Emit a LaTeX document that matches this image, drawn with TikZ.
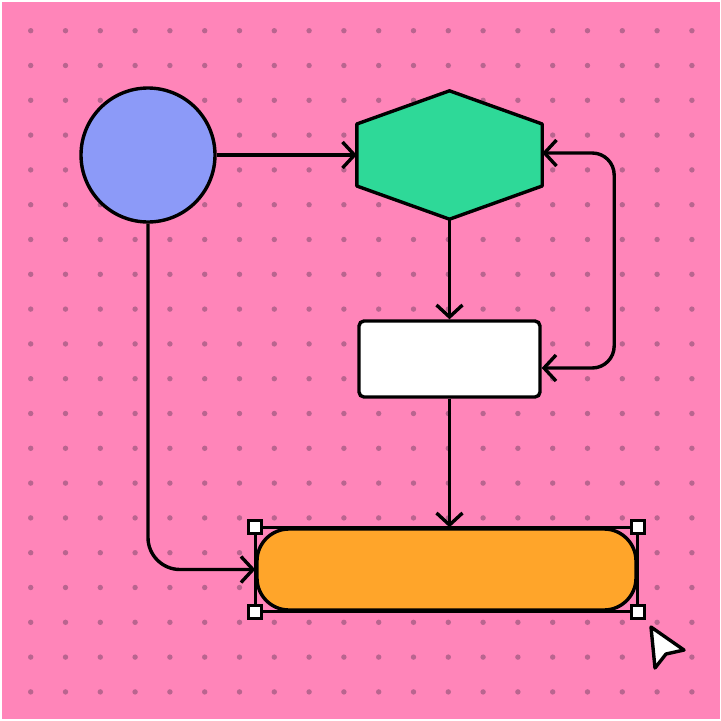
\documentclass[tikz,border=0pt]{standalone}
\usetikzlibrary{arrows.meta}
\definecolor{bgpink}{HTML}{FF85B9}
\definecolor{dotpink}{HTML}{B9658F}
\definecolor{circblue}{HTML}{8C9AF8}
\definecolor{hexgreen}{HTML}{2ED998}
\definecolor{pillorange}{HTML}{FFA52A}
\begin{document}
\begin{tikzpicture}[x=1pt, y=-1pt, line width=3.4pt,
	arr/.style={-{Straight Barb[length=12pt,width=26pt,line width=3.4pt]}},
	arrboth/.style={{Straight Barb[length=12pt,width=26pt,line width=3.4pt]}-{Straight Barb[length=12pt,width=26pt,line width=3.4pt]}},
	handle/.style={draw, fill=white, line width=3pt, minimum size=13pt, inner sep=0pt}]
	\useasboundingbox (0,0) rectangle (721,721);
	\fill[bgpink] (2,2) rectangle (720,719);
	\foreach \i in {0,...,19}
		\foreach \j in {0,...,19}
			\fill[dotpink] (30.7+34.8*\i, 30.7+34.8*\j) circle (2.7);
	\node[draw, circle, fill=circblue, minimum size=134pt, inner sep=0pt] (circ) at (148,155) {};
	\node[minimum width=182pt, minimum height=125pt, inner sep=0pt] (hex) at (449.5,155) {};
	\draw[fill=hexgreen, line join=round] ([yshift=31pt]hex.west) -- (hex.north) -- ([yshift=31pt]hex.east)
		-- ([yshift=-31pt]hex.east) -- (hex.south) -- ([yshift=-31pt]hex.west) -- cycle;
	\node[draw, fill=white, rounded corners=5pt, minimum width=181pt, minimum height=76pt, inner sep=0pt] (box) at (449.5,359) {};
	\node[draw, fill=pillorange, rounded corners=32pt, minimum width=379pt, minimum height=81pt, inner sep=0pt] (pill) at (446.5,569.5) {};
	% selection frame
	\draw[line width=2.5pt] (pill.south west) rectangle (pill.north east);
	\node[handle] (h1) at (pill.north west) {};
	\node[handle] (h2) at (pill.north east) {};
	\node[handle] (h3) at (pill.south west) {};
	\node[handle] (h4) at (pill.south east) {};
	% connectors
	\draw[arr] (circ.east) -- (hex.west);
	\draw[arr] (hex.south) -- (box.north);
	\draw[arr] (box.south) -- (box.south |- pill.north);
	\draw[arr, rounded corners=32pt] (circ.south) |- (pill.west);
	\coordinate (turn) at ([xshift=72pt,yshift=2pt]hex.east);
	\draw[arrboth, rounded corners=22pt]
		([yshift=2pt]hex.east) -- (turn) |- ([yshift=-9pt]box.east);
	% cursor
	\draw[fill=white, line join=round] (651,627) -- (684,650) -- (666,654) -- (655,668) -- cycle;
\end{tikzpicture}
\end{document}
